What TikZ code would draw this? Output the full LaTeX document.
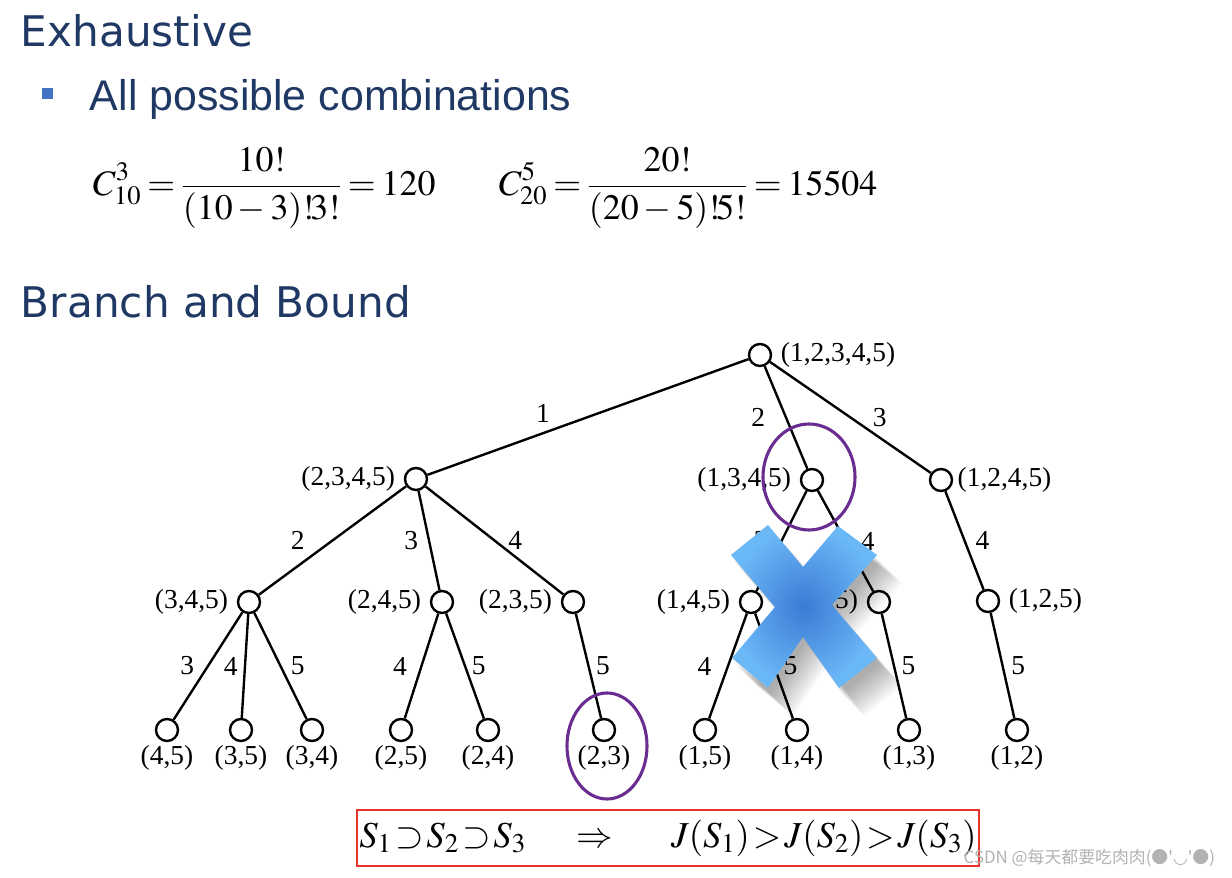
\documentclass[tikz,border=0pt]{standalone}
\usepackage{mathptmx}
\usepackage{fontspec}
\usepackage{tikz}
\newfontfamily\headfont{DejaVu Sans}
\newfontfamily\bodyfont{Liberation Sans}
\newfontfamily\treefont{Liberation Serif}
\newfontfamily\cjkfont{Noto Sans CJK SC}
\newfontfamily\symfont{DejaVu Sans}
\definecolor{navy}{HTML}{1F3864}
\definecolor{bulletblue}{HTML}{4472C4}
\definecolor{hlpurple}{HTML}{6A2C91}
\definecolor{boxred}{HTML}{E8332A}
\definecolor{xlight}{HTML}{6BB8F7}
\definecolor{xdark}{HTML}{3A7BD5}

\begin{document}
\begin{tikzpicture}[
  x=0.025cm, y=-0.025cm,
  vtx/.style={circle, draw, line width=1.7pt, minimum size=0.55cm, inner sep=0pt, fill=white},
  lbl/.style={font=\treefont\fontsize{19.5}{21}\selectfont, inner sep=2pt},
  branch/.style={line width=1.7pt},
  heading/.style={anchor=base west, text=navy, font=\headfont\fontsize{30}{34}\selectfont},
  formula/.style={anchor=west, font=\fontsize{25.5}{30}\selectfont},
  hilite/.style={draw=hlpurple, line width=2.2pt},
  every label/.style={lbl}, label distance=4pt
]
\useasboundingbox (0,0) rectangle (1232,878);

% headings
\node[heading] (exh) at (16,47) {Exhaustive};
\fill[bulletblue] (42,88) rectangle (53,99);
\node[anchor=base west, text=navy, font=\bodyfont\fontsize{30.5}{34}\selectfont] (allc) at (85,111) {All possible combinations};
\node[formula] (comb1) at (88,188) {$\thickmuskip=3mu\displaystyle C_{10}^{3}=\frac{10!}{(10-3)!\!3!}=120$};
\node[formula] (comb2) at (494,188) {$\thickmuskip=3mu\displaystyle C_{20}^{5}=\frac{20!}{(20-5)!\!5!}=15504$};
\node[heading] (bnb) at (16,318) {Branch and Bound};

% tree
\node[vtx, label={right:{(1,2,3,4,5)}}] (r) at (760,355) {};
\node[vtx, label={left:{(2,3,4,5)}}] (a) at (416,479) {};
\node[vtx, label={left:{(1,3,4,5)}}] (b) at (812,480) {};
\node[vtx, label={[label distance=1pt]right:{(1,2,4,5)}}] (c) at (941,480) {};
\node[vtx, label={left:{(3,4,5)}}] (a1) at (249,602) {};
\node[vtx, label={left:{(2,4,5)}}] (a2) at (442,602) {};
\node[vtx, label={left:{(2,3,5)}}] (a3) at (573,602) {};
\node[vtx, label={left:{(1,4,5)}}] (b1) at (751,602) {};
\node[vtx, label={left:{(1,3,5)}}] (b2) at (879,602) {};
\node[vtx, label={right:{(1,2,5)}}] (c1) at (988,601) {};
\foreach \nm/\xx/\txt in {l45/167/{(4,5)}, l35/241/{(3,5)}, l34/312/{(3,4)}, l25/401/{(2,5)}, l24/488/{(2,4)},
                          l23/604/{(2,3)}, l15/705/{(1,5)}, l14/797/{(1,4)}, l13/909/{(1,3)}, l12/1017/{(1,2)}}
  \node[vtx, label={[label distance=0pt]below:\txt}] (\nm) at (\xx,730) {};

\draw[branch] (r) -- (a) node[lbl, pos=0.64, above=5pt] {1};
\draw[branch] (r) -- (b) node[lbl, midway, left=12pt] {2};
\draw[branch] (r) -- (c) node[lbl, midway, right=13pt] {3};
\draw[branch] (a) -- (a1) node[lbl, midway, left=17pt] {2};
\draw[branch] (a) -- (a2) node[lbl, midway, left=5pt] {3};
\draw[branch] (a) -- (a3) node[lbl, midway, right=7pt] {4};
\draw[branch] (b) -- (b1) node[lbl, midway, left=7pt] {3};
\draw[branch] (b) -- (b2) node[lbl, midway, right=8pt] {4};
\draw[branch] (c) -- (c1) node[lbl, midway, right=5pt] {4};
\draw[branch] (a1) -- (l45) node[lbl, midway, left=7pt] {3};
\draw[branch] (a1) -- (l35) node[lbl, midway, left=2.5pt] {4};
\draw[branch] (a1) -- (l34) node[lbl, midway, right=4.5pt] {5};
\draw[branch] (a2) -- (l25) node[lbl, midway, left=7.5pt] {4};
\draw[branch] (a2) -- (l24) node[lbl, midway, right=2pt] {5};
\draw[branch] (a3) -- (l23) node[lbl, midway, right=2.5pt] {5};
\draw[branch] (b1) -- (l15) node[lbl, midway, left=9pt] {4};
\draw[branch] (b1) -- (l14) node[lbl, midway, right=4pt] {5};
\draw[branch] (b2) -- (l13) node[lbl, midway, right=2.5pt] {5};
\draw[branch] (c1) -- (l12) node[lbl, midway, right=3.5pt] {5};

% highlights
\draw[hilite] (809,477) ellipse [x radius=46, y radius=53];
\draw[hilite] (607,746) ellipse [x radius=40, y radius=53];

% cross with soft shadow
\foreach \k in {0,...,11}
  \fill[black, opacity=0.03, shift={(3+2*\k,6+2*\k)}] (768,525) -- (803,567) -- (838,526) -- (877,555) -- (832,605) -- (877,658) -- (839,688) -- (803,637) -- (768,688) -- (732,658) -- (775,607) -- (731,555) -- cycle;
\shade[inner color=xdark, outer color=xlight, shading=radial] (768,525) -- (803,567) -- (838,526) -- (877,555) -- (832,605) -- (877,658) -- (839,688) -- (803,637) -- (768,688) -- (732,658) -- (775,607) -- (731,555) -- cycle;

% bound box
\node[draw=boxred, line width=1.5pt, minimum width=15.25cm, minimum height=1.4cm, inner sep=2pt, font=\fontsize{26}{30}\selectfont] (bound) at (668,838)
  {$\thickmuskip=1.5mu S_1\supset S_2\supset S_3\hspace{1.3em}\Rightarrow\hspace{1.5em}J(S_1)>J(S_2)>J(S_3)$};
\node[anchor=east, text=black!30, font=\cjkfont\fontsize{12}{14}\selectfont] (wm) at (1220,858) {CSDN @每天都要吃肉肉(●'{\symfont ◡}'●)};
\end{tikzpicture}
\end{document}
